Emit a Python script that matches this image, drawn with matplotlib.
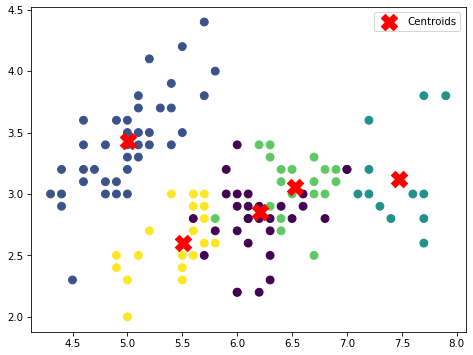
import matplotlib
matplotlib.use("Agg")
import matplotlib.pyplot as plt
import numpy as np

# cluster 0 (purple)
c0_x = [5.6, 5.8, 5.7, 5.9, 5.9, 6.0, 6.1, 6.0, 6.1, 6.1, 6.0, 6.1, 6.0, 6.0, 6.2, 6.2,
        6.4, 6.6, 6.6, 6.1, 6.2, 6.3, 6.5, 6.8, 6.3, 6.3, 6.3, 6.0, 7.0, 7.0]
c0_y = [2.8, 2.7, 2.5, 3.2, 3.0, 3.0, 3.0, 2.9, 2.9, 2.8, 2.7, 2.6, 2.2, 3.4, 2.9, 2.2,
        2.9, 2.9, 3.0, 2.8, 2.8, 2.8, 2.8, 2.8, 2.7, 2.5, 2.3, 2.2, 3.2, 3.2]
# cluster 1 (blue)
c1_x = [5.7, 5.5, 5.2, 5.8, 5.4, 5.1, 5.7, 5.1, 5.3, 5.4, 4.6, 4.9, 5.0, 5.0, 5.1, 5.2,
        5.5, 4.6, 4.8, 5.0, 5.1, 5.2, 5.4, 5.0, 5.1, 4.4, 4.6, 4.7, 5.0, 4.6, 4.8, 4.9,
        4.3, 4.4, 4.8, 4.9, 5.0, 4.4, 4.5]
c1_y = [4.4, 4.2, 4.1, 4.0, 3.9, 3.8, 3.8, 3.7, 3.7, 3.7, 3.6, 3.6, 3.6, 3.5, 3.5, 3.5,
        3.5, 3.4, 3.4, 3.4, 3.4, 3.4, 3.4, 3.3, 3.3, 3.2, 3.2, 3.2, 3.2, 3.1, 3.1, 3.1,
        3.0, 3.0, 3.0, 3.0, 3.0, 2.9, 2.3]
# cluster 2 (teal)
c2_x = [7.7, 7.9, 7.2, 7.2, 7.1, 7.2, 7.6, 7.7, 7.3, 7.4, 7.7, 7.7]
c2_y = [3.8, 3.8, 3.6, 3.2, 3.0, 3.0, 3.0, 3.0, 2.9, 2.8, 2.8, 2.6]
# cluster 3 (green)
c3_x = [6.2, 6.3, 6.3, 6.7, 6.4, 6.5, 6.8, 6.9, 6.4, 6.7, 6.9, 6.5, 6.7, 6.8, 6.3,
        5.8, 6.4, 6.4, 6.7]
c3_y = [3.4, 3.4, 3.3, 3.3, 3.2, 3.2, 3.2, 3.2, 3.1, 3.1, 3.1, 3.0, 3.0, 3.0, 2.9,
        2.8, 2.8, 2.7, 2.5]
# cluster 4 (yellow)
c4_x = [5.4, 5.6, 5.7, 5.6, 5.7, 5.7, 5.2, 5.6, 5.5, 5.7, 5.8, 4.9, 5.1, 5.5, 5.6,
        4.9, 5.5, 5.0, 5.5, 5.0]
c4_y = [3.0, 3.0, 3.0, 2.9, 2.9, 2.8, 2.7, 2.7, 2.6, 2.6, 2.6, 2.5, 2.5, 2.5, 2.5,
        2.4, 2.4, 2.3, 2.3, 2.0]

cent_x = [6.21, 5.006, 7.475, 6.53, 5.51]
cent_y = [2.85, 3.428, 3.125, 3.06, 2.60]

xs = np.array(c0_x + c1_x + c2_x + c3_x + c4_x)
ys = np.array(c0_y + c1_y + c2_y + c3_y + c4_y)
labels = np.array([0]*len(c0_x) + [1]*len(c1_x) + [2]*len(c2_x) + [3]*len(c3_x) + [4]*len(c4_x))

fig = plt.figure(figsize=(6.4, 4.8), dpi=74)
ax = fig.add_axes([0.065, 0.066, 0.918, 0.913])
ax.scatter(xs, ys, c=labels, cmap='viridis', s=58)
ax.scatter(cent_x, cent_y, c='red', marker='X', s=250, label='Centroids')
ax.legend(loc='upper right')
fig.savefig("out.png", dpi=74)
